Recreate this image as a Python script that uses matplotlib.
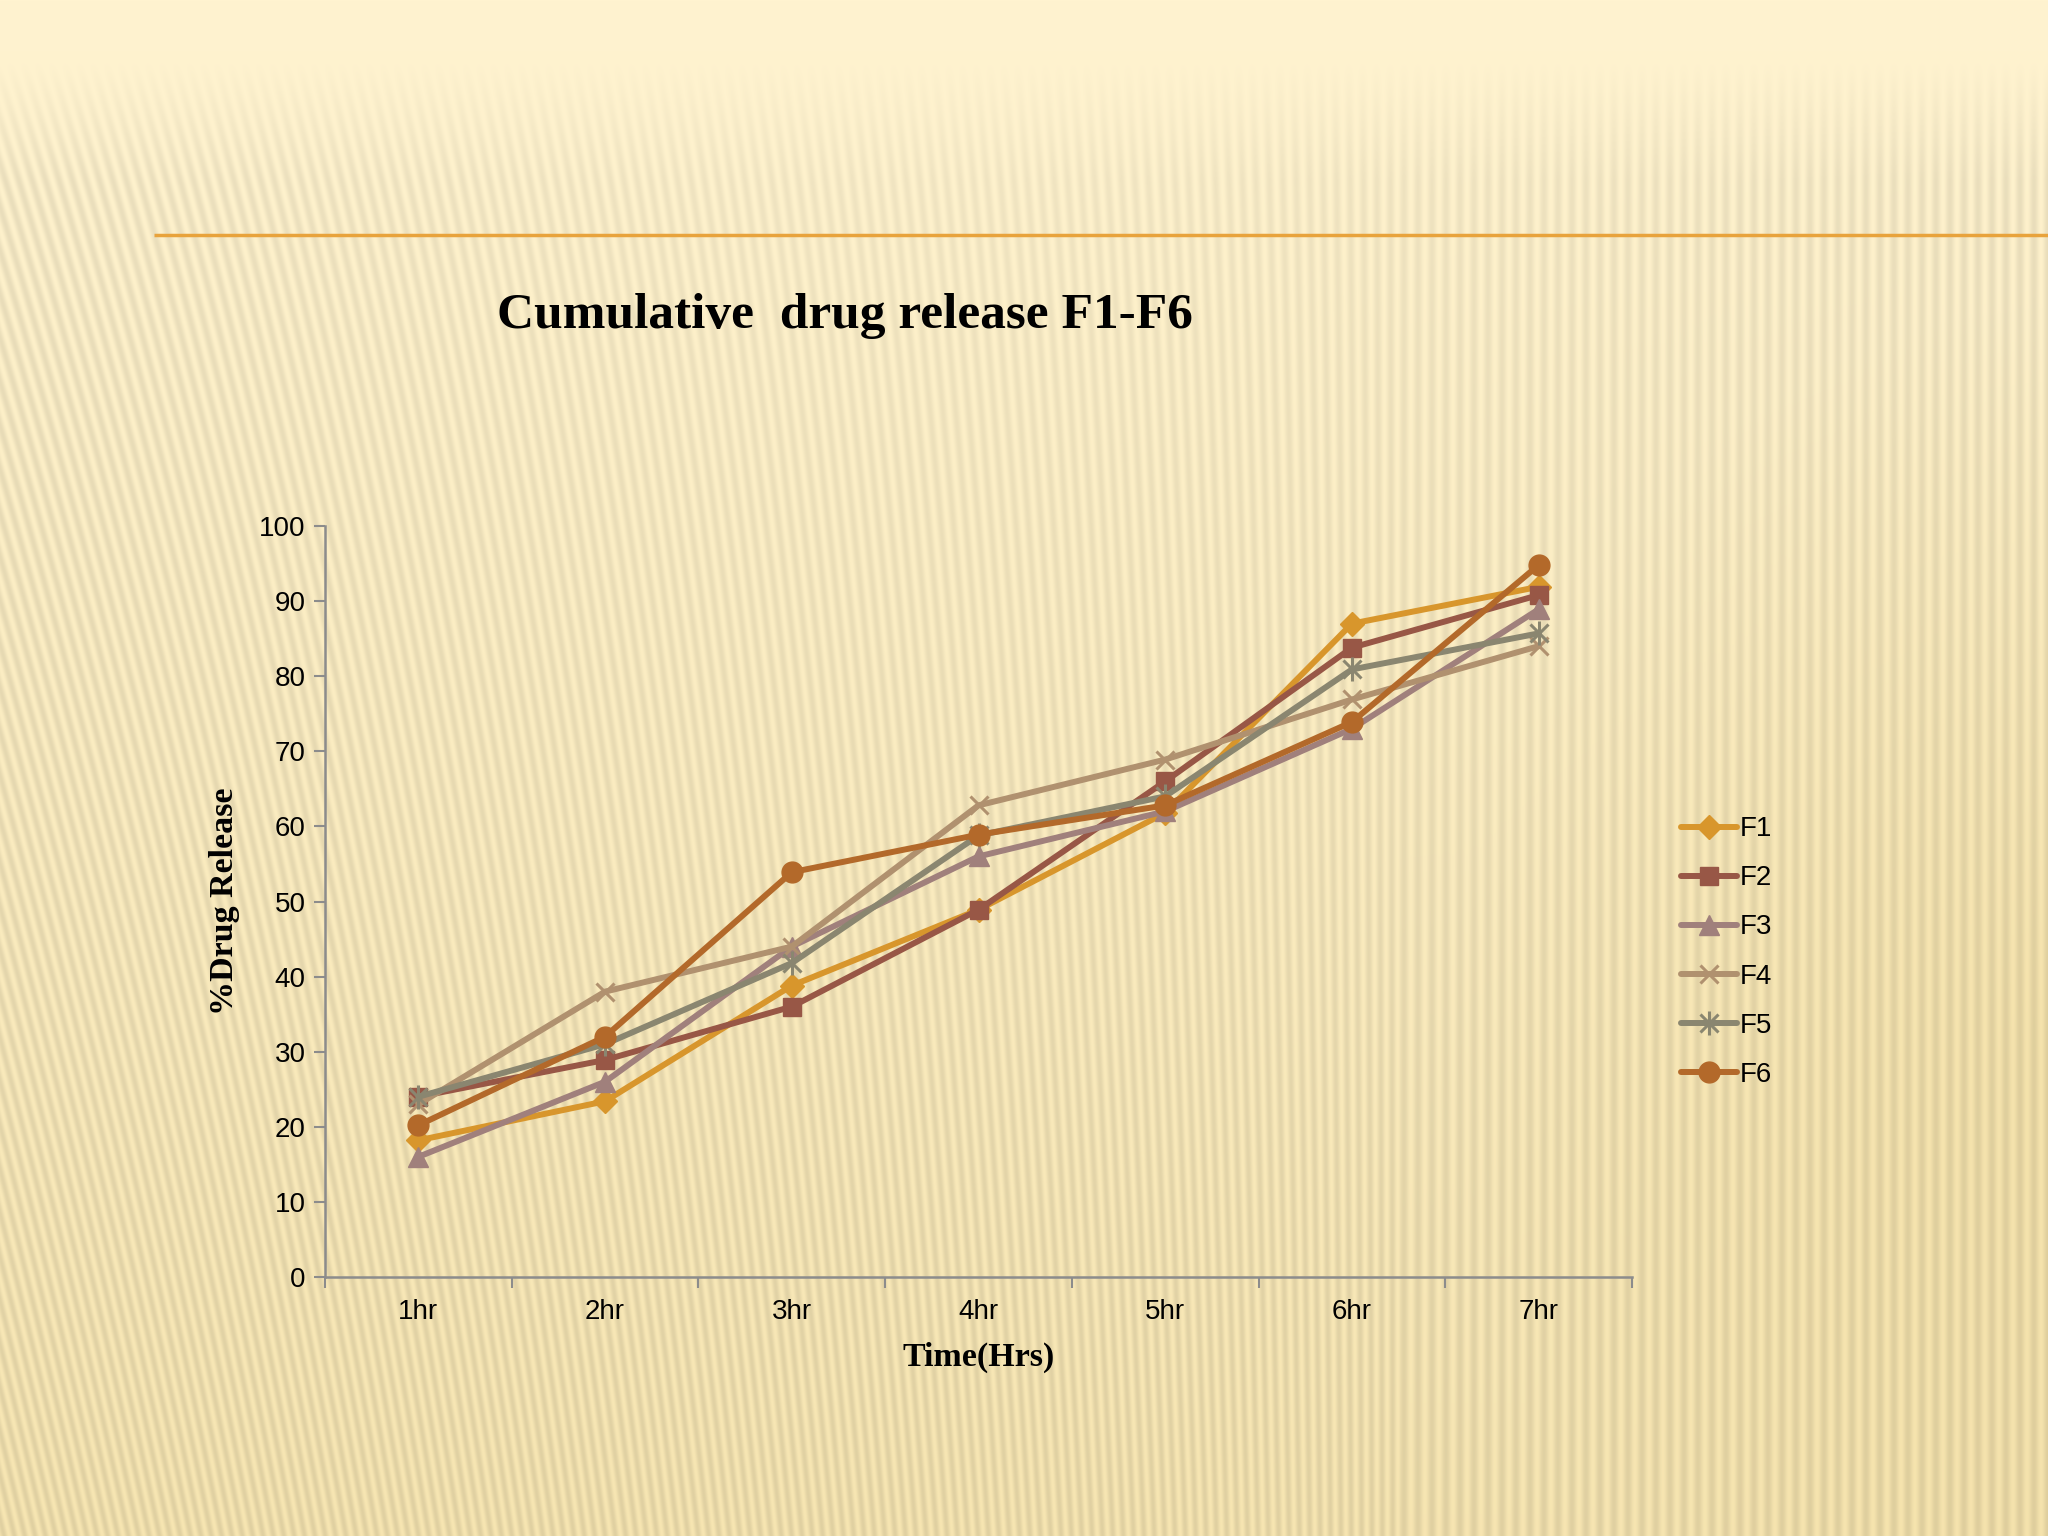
import numpy as np
import matplotlib
matplotlib.use("Agg")
import matplotlib.pyplot as plt
from matplotlib.lines import Line2D

# ---------------- data ----------------
categories = ["1hr", "2hr", "3hr", "4hr", "5hr", "6hr", "7hr"]
series_names = ["F1", "F2", "F3", "F4", "F5", "F6"]
F1 = [18.2, 23.4, 38.8, 48.9, 61.8, 87.0, 91.9]
F2 = [24.0, 28.9, 36.0, 48.9, 66.0, 83.8, 90.8]
F3 = [16.0, 26.0, 44.0, 56.0, 62.0, 73.0, 88.9]
F4 = [23.0, 38.0, 44.0, 62.8, 68.9, 76.9, 84.0]
F5 = [24.0, 31.0, 41.8, 58.8, 64.0, 80.9, 85.7]
F6 = [20.2, 32.0, 53.9, 58.9, 62.8, 73.9, 94.8]
y_ticks = [0, 10, 20, 30, 40, 50, 60, 70, 80, 90, 100]

values = [F1, F2, F3, F4, F5, F6]
colors = ["#D8962C", "#985746", "#A0807C", "#B0916F", "#8A8670", "#B3692A"]
markers = ["D", "s", "^", "x", "x", "o"]

W, H = 2048, 1536
fig = plt.figure(figsize=(W / 100, H / 100), dpi=100)

# ---------------- background ----------------
yy, xx = np.mgrid[0:H, 0:W].astype(float)
slant = -0.32 * np.clip(1 - xx / 1400.0, 0, 1)
phase = (xx + slant * yy) / 14.0
stripe = 0.5 + 0.5 * np.sin(2 * np.pi * phase)
fade = np.clip((yy - 60) / 120.0, 0, 1)
center_light = np.exp(-((xx - 1000) / 900.0) ** 2) * np.clip(1 - yy / 1300, 0, 1)
amp = fade * (0.75 - 0.35 * center_light)
light = np.array([255, 243, 208]) / 255.0
dark = np.array([236, 212, 140]) / 255.0
vert = np.clip(yy / H, 0, 1)[..., None]
base = light * (1 - 0.45 * vert) + dark * (0.45 * vert)
br = np.clip(1 - np.hypot((xx - 2100) / 650.0, (yy - 1050) / 750.0), 0, 1)[..., None]
base = base * (1 - 0.35 * br) + dark * (0.35 * br)
img = base * (1 - 0.12 * (amp * stripe)[..., None])
img = np.clip(img, 0, 1)
bg = fig.add_axes([0, 0, 1, 1], zorder=-10)
bg.imshow(img, extent=[0, W, H, 0], aspect="auto", interpolation="bilinear")
bg.set_xlim(0, W)
bg.set_ylim(H, 0)
bg.axis("off")
bg.plot([154, W], [235, 235], color="#E8A33C", lw=2.5, solid_capstyle="butt")

# ---------------- title ----------------
fig.text(845 / W, 1 - 316 / H, "Cumulative  drug release F1-F6",
         ha="center", va="center", fontsize=37, fontweight="bold",
         family="Liberation Serif", color="black")

# ---------------- chart ----------------
ax = fig.add_axes([325 / W, 1 - 1277 / H, (1632 - 325) / W, (1277 - 526) / H])
ax.patch.set_alpha(0)
x = np.arange(1, len(categories) + 1)


def msize(m):
    return 15 if m in ("o", "^") else (12 if m == "D" else 13)


for name, vals, c, m in zip(series_names, values, colors, markers):
    ax.plot(x, vals, color=c, lw=4.3, marker=m, markersize=msize(m),
            markeredgecolor=c, markerfacecolor=c,
            markeredgewidth=2.2 if m == "x" else 1,
            solid_capstyle="round", label=name, zorder=3)
    if name == "F5":
        ax.plot(x, vals, ls="none", marker="|", markersize=17,
                markeredgecolor=c, markeredgewidth=2.2, zorder=3)

ax.set_xlim(0.5, len(categories) + 0.5)
ax.set_ylim(0, 100)
ax.set_yticks(y_ticks)
ax.set_yticklabels([str(t) for t in y_ticks])
ax.set_xticks(x)
ax.set_xticklabels(categories)
ax.set_xticks(np.arange(0.5, len(categories) + 1, 1), minor=True)
ax.tick_params(axis="x", which="major", length=0, pad=16, labelsize=20)
ax.tick_params(axis="x", which="minor", length=8, width=1.5, color="#8C8C8C")
ax.tick_params(axis="y", which="major", length=8, width=1.5, color="#8C8C8C",
               labelsize=20, pad=6)
for lab in ax.get_xticklabels() + ax.get_yticklabels():
    lab.set_family("Liberation Sans")
for s in ["top", "right"]:
    ax.spines[s].set_visible(False)
for s in ["left", "bottom"]:
    ax.spines[s].set_color("#8C8C8C")
    ax.spines[s].set_linewidth(1.8)

ax.set_xlabel("Time(Hrs)", fontsize=24.5, fontweight="bold",
              family="Liberation Serif", labelpad=12)
ax.set_ylabel("%Drug Release", fontsize=24.5, fontweight="bold",
              family="Liberation Serif", labelpad=14)

# legend
leg_handles = []
for name, c, m in zip(series_names, colors, markers):
    h = Line2D([0], [0], color=c, lw=4.3, marker=m, markersize=msize(m),
               markeredgecolor=c, markerfacecolor=c,
               markeredgewidth=2.2 if m == "x" else 1, solid_capstyle="round")
    if name == "F5":
        h2 = Line2D([0], [0], ls="none", marker="|", markersize=17,
                    markeredgecolor=c, markeredgewidth=2.2)
        h = (h, h2)
    leg_handles.append(h)
leg = fig.legend(leg_handles, series_names, loc="center left",
                 bbox_to_anchor=(1656 / W, 1 - 952 / H), frameon=False,
                 prop={"family": "Liberation Sans", "size": 20},
                 handlelength=2.0, handletextpad=0.1, labelspacing=0.83)

fig.savefig("out.png", dpi=100)
